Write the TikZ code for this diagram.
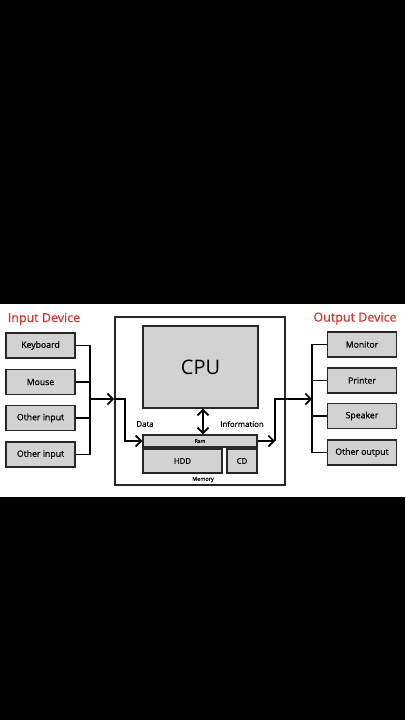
\documentclass[tikz,border=0pt]{standalone}
\usepackage{fontspec}
\setmainfont{Open Sans}
\newfontfamily\medfont[FakeBold=0.6]{Open Sans}
\usetikzlibrary{arrows.meta}
\definecolor{myboxgray}{RGB}{210,210,210}
\definecolor{myred}{RGB}{214,52,48}
\definecolor{myedge}{RGB}{40,40,40}
\tikzset{every picture/.style={line width=0.75pt}}
\tikzset{
  devbox/.style={draw=myedge, line width=1.5pt, fill=myboxgray, minimum width=69pt, minimum height=25pt, inner sep=0pt, font=\medfont\fontsize{8.7}{10}\selectfont},
  membox/.style={draw=myedge, line width=1.3pt, fill=myboxgray, inner sep=0pt},
  bus/.style={line width=1.7pt},
  flow/.style={line width=1.7pt, -{Straight Barb[length=5.5pt,width=11pt]}},
  headlbl/.style={text=myred, font=\medfont\fontsize{12.5}{14}\selectfont, inner sep=0pt},
  smalllbl/.style={font=\medfont\fontsize{7.8}{9}\selectfont, inner sep=0pt},
}

\begin{document}
\begin{tikzpicture}[x=1pt,y=1pt,yscale=-1]
\useasboundingbox (0,0) rectangle (405,720);
%Shape: Rectangle [background]
\fill[black] (0,0) rectangle (405,720);
\fill[white] (0,304) rectangle (405,497);

% Text Node
\node[headlbl] (inlbl) at (44,319) {Input Device};
% Text Node
\node[headlbl] (outlbl) at (355,318.5) {Output Device};

%Shape: Rectangle [input devices]
\node[devbox] (kbd) at (40.5,345.5) {Keyboard};
\node[devbox] (mouse) at (40.5,382) {Mouse};
\node[devbox] (oin1) at (40.5,418) {Other input};
\node[devbox] (oin2) at (40.5,454.5) {Other input};

%Shape: Rectangle [computer]
\node[draw=myedge, line width=1.7pt, minimum width=170pt, minimum height=168pt] (sys) at (200,401) {};
%Shape: Rectangle [cpu]
\node[membox, minimum width=115pt, minimum height=82pt, font=\fontsize{20}{22}\selectfont] (cpu) at (200.5,367) {CPU};
%Shape: Rectangle [memory]
\node[membox, minimum width=114pt, minimum height=12pt, font=\medfont\fontsize{5}{6}\selectfont] (ram) at (200,441) {Ram};
\node[membox, minimum width=79pt, minimum height=24pt, font=\medfont\fontsize{7.8}{9}\selectfont] (hdd) at (182.5,461) {HDD};
\node[membox, minimum width=30pt, minimum height=24pt, font=\medfont\fontsize{7.8}{9}\selectfont] (cd) at (242,461) {CD};
% Text Node
\node[font=\medfont\fontsize{5.5}{6}\selectfont, inner sep=0pt] (memlbl) at (203,479.5) {Memory};

%Shape: Rectangle [output devices]
\node[devbox] (mon) at (362,344.5) {Monitor};
\node[devbox] (prn) at (362,380.5) {Printer};
\node[devbox] (spk) at (362,416) {Speaker};
\node[devbox] (oout) at (362,452.5) {Other output};

%Straight Lines [input bus]
\coordinate (inbus) at (90,399);
\draw[bus] (kbd.east) -- (kbd.east -| inbus) -- (oin2.east -| inbus) -- (oin2.east);
\draw[bus] (mouse.east) -- (mouse.east -| inbus);
\draw[bus] (oin1.east) -- (oin1.east -| inbus);
\draw[flow] (inbus) -- (inbus -| sys.west);
%Straight Lines [data]
\coordinate (datak) at (125,399);
\draw[flow] (inbus -| sys.west) -- (datak) |- (ram.west);
% Text Node
\node[smalllbl] (datalbl) at (145,424) {Data};

%Straight Lines [cpu to ram]
\coordinate (cpuram) at (203,0);
\draw[line width=1.7pt, {Straight Barb[length=5.5pt,width=11pt]}-{Straight Barb[length=5.5pt,width=11pt]}] (cpu.south -| cpuram) -- (ram.north -| cpuram);
% Text Node
\node[smalllbl] (infolbl) at (242,424) {Information};

%Straight Lines [information]
\coordinate (infok) at (275,399);
\coordinate (outbus) at (312,399);
\draw[flow] (ram.east) -- (ram.east -| infok);
\draw[flow] (ram.east -| infok) -- (infok) -- (outbus);

%Straight Lines [output bus]
\draw[bus] (mon.west) -- (mon.west -| outbus) -- (oout.west -| outbus) -- (oout.west);
\draw[bus] (prn.west) -- (prn.west -| outbus);
\draw[bus] (spk.west) -- (spk.west -| outbus);

\end{tikzpicture}
\end{document}
